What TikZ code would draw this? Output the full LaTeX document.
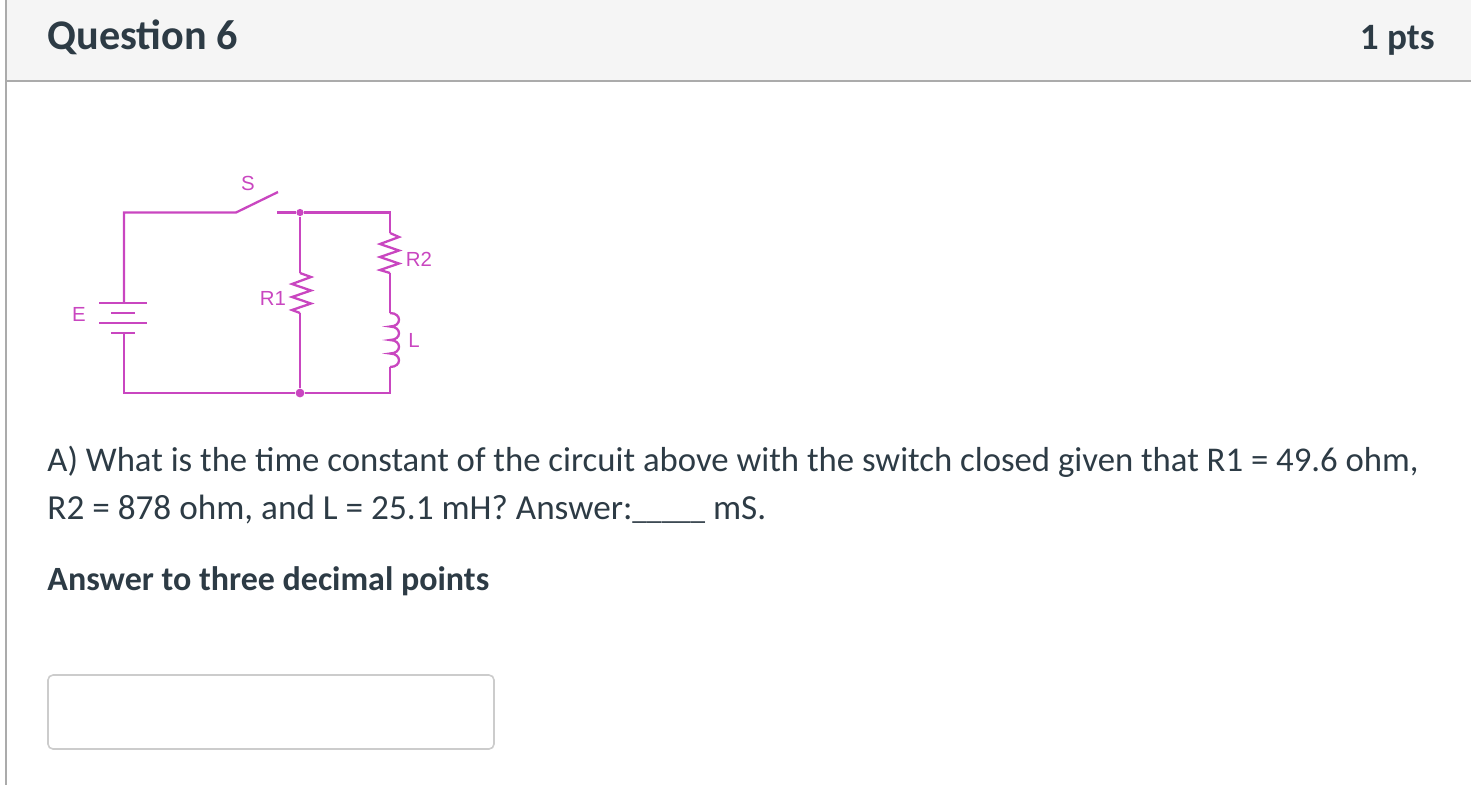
\documentclass[tikz,border=0pt]{standalone}
\usepackage{fontspec}
\setmainfont{Carlito}
\newfontfamily\labelfont{Liberation Sans}
\definecolor{inkdark}{HTML}{2D3B45}
\definecolor{wirepink}{HTML}{C946C0}
\definecolor{headbg}{HTML}{F5F5F5}
\definecolor{edgegrey}{HTML}{ABABAB}
\definecolor{boxgrey}{HTML}{CCCCCC}
\tikzset{
  wire/.style={wirepink,line width=1.15pt},
  txt/.style={anchor=base west,inner sep=0pt,text=inkdark,font=\fontsize{17.36}{20}\selectfont},
  boldtxt/.style={txt,font=\fontsize{17.0}{20}\selectfont\bfseries},
  headtxt/.style={inner sep=0pt,anchor=base west,text=inkdark,font=\fontsize{21.1}{24}\selectfont\bfseries},
  partlabel/.style={inner sep=0pt,text=wirepink,font=\labelfont\fontsize{10.2}{11}\selectfont},
  dot/.style={circle,fill=wirepink,inner sep=0pt,minimum size=3.6pt}
}
\begin{document}
\begin{tikzpicture}[x=0.5pt,y=-0.5pt]
      \useasboundingbox (0,0) rectangle (1471,784);
      % header and frame
      \fill[headbg] (6,0) rectangle (1471,81);
      \draw[edgegrey,line width=1pt] (6,0) -- (6,790);
      \draw[edgegrey,line width=1pt] (6,81) -- (1471,81);
      \node[headtxt] (title) at (47,49) {Question 6};
      \node[headtxt,anchor=base east,font=\fontsize{18.6}{20}\selectfont\bfseries] (pts) at (1435,49) {1 pts};
      % circuit
      \coordinate (tl) at (124,212.5);
      \coordinate (bl) at (124,393);
      \coordinate (sa) at (236,212.5);
      \coordinate (sb) at (278,192);
      \coordinate (sc) at (277,212.5);
      \coordinate (tr) at (390,212.5);
      \coordinate (br) at (390,393);
      \coordinate (batTop) at (124,303);
      \coordinate (batBot) at (124,333);
      \coordinate (r1a) at (300,273);
      \coordinate (r1b) at (300,313);
      \coordinate (r2a) at (390,233);
      \coordinate (r2b) at (390,273);
      \coordinate (la) at (390,313);
      \coordinate (lb) at (390,367);
      \node[dot] (jtop) at (300,212.5) {};
      \node[dot,minimum size=4.4pt] (jbot) at (300,393) {};
      \draw[wire] (batTop) -- (tl) -- (sa) -- (sb);
      \draw[wire] (sc) -- (jtop) -- (tr) -- (r2a);
      \draw[wire] (batBot) -- (bl) -- (jbot) -- (br) -- (lb);
      \draw[wire] (jtop) -- (r1a);
      \draw[wire] (r1b) -- (jbot);
      \draw[wire] (r2b) -- (la);
      % battery plates
      \draw[wire] (99,303) -- (147,303);
      \draw[wire] (111,313) -- (135,313);
      \draw[wire] (99,323) -- (147,323);
      \draw[wire] (111,333) -- (135,333);
      % resistors
      \draw[wire] (r1a) -- ++(11,4) -- ++(-19,7) -- ++(19,6.5) -- ++(-19,6.5) -- ++(19,6.5) -- ++(-19,6.5) -- (r1b);
      \draw[wire] (r2a) -- ++(9,4) -- ++(-19,7) -- ++(19,6.5) -- ++(-19,6.5) -- ++(19,6.5) -- ++(-19,6.5) -- (r2b);
      % coil
      \draw[wire] (la) .. controls +(12,0) and +(12,0) .. ++(0,13.5)
                  .. controls +(12,0) and +(12,0) .. ++(0,13.5)
                  .. controls +(12,0) and +(12,0) .. ++(0,13.5)
                  .. controls +(12,0) and +(12,0) .. (lb);
      \node[partlabel] (lblE) at (79,314) {E};
      \node[partlabel] (lblS) at (248,183) {S};
      \node[partlabel] (lblRa) at (273,298) {R1};
      \node[partlabel] (lblRb) at (419,259) {R2};
      \node[partlabel] (lblL) at (414,340) {L};
      % question text
      \node[txt] (line1) at (47,471) {A) What is the time constant of the circuit above with the switch closed given that R1 = 49.6 ohm,};
      \node[txt,font=\fontsize{17.6}{20}\selectfont] (line2) at (47,519) {R2 = 878 ohm, and L = 25.1 mH? Answer:{\fontsize{14.6}{20}\selectfont\_\_\_\_\_} mS.};
      \node[boldtxt] (line3) at (47,590) {Answer to three decimal points};
      % answer box
      \draw[boxgrey,line width=0.8pt,rounded corners=2.5pt] (48,675) rectangle (494,749);
\end{tikzpicture}
\end{document}
